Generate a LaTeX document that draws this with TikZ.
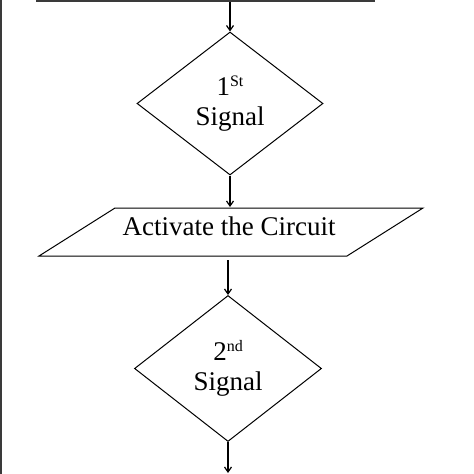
\documentclass[tikz,border=0pt]{standalone}
\usepackage{fontspec}
\setmainfont{Liberation Serif}
\usetikzlibrary{shapes.geometric,arrows.meta}
\definecolor{B}{RGB}{58,58,58}
\newcommand{\signalno}[2]{#1\raisebox{9pt}{\fontsize{16}{16}\selectfont #2}\\Signal}
\tikzset{
  decide/.style={draw, shape=diamond, minimum width=186pt, minimum height=143pt, inner sep=0pt, align=center, line width=1pt},
  flow/.style={line width=1.2pt, -{Straight Barb[length=5pt,width=7pt]}}
}
\begin{document}
\begin{tikzpicture}[x=1pt,y=-1pt,font=\fontsize{27}{30}\selectfont]
\useasboundingbox (0,0) rectangle (474,474);
\clip (0,0) rectangle (474,474);
\fill[white] (0,0) rectangle (474,474);
\draw[line width=2pt,B] (1,0)--(1,474);
\node[draw=B,line width=2.5pt,minimum width=337pt,minimum height=40pt,inner sep=0pt] (prev) at (205.5,-19) {};
\node[decide] (sig1) at (230,103.5) {\signalno{1}{St}};
% input box
\draw[line width=1pt] (39,256)--(115,208)--(423,208)--(347,256)--cycle;
\node (act) at (229,226) {Activate the Circuit};
\coordinate (actN) at (230,207);
\coordinate (actS) at (228,260);
\node[decide,minimum width=187pt,minimum height=146pt] (sig2) at (228,368.5) {\signalno{2}{nd}};
\coordinate (next) at (228,473);
\draw[flow] (prev.south -| sig1.north) -- (sig1.north);
\draw[flow] (sig1.south) -- (actN);
\draw[flow] (actS) -- (sig2.north);
\draw[flow] (sig2.south) -- (next);
\end{tikzpicture}
\end{document}
